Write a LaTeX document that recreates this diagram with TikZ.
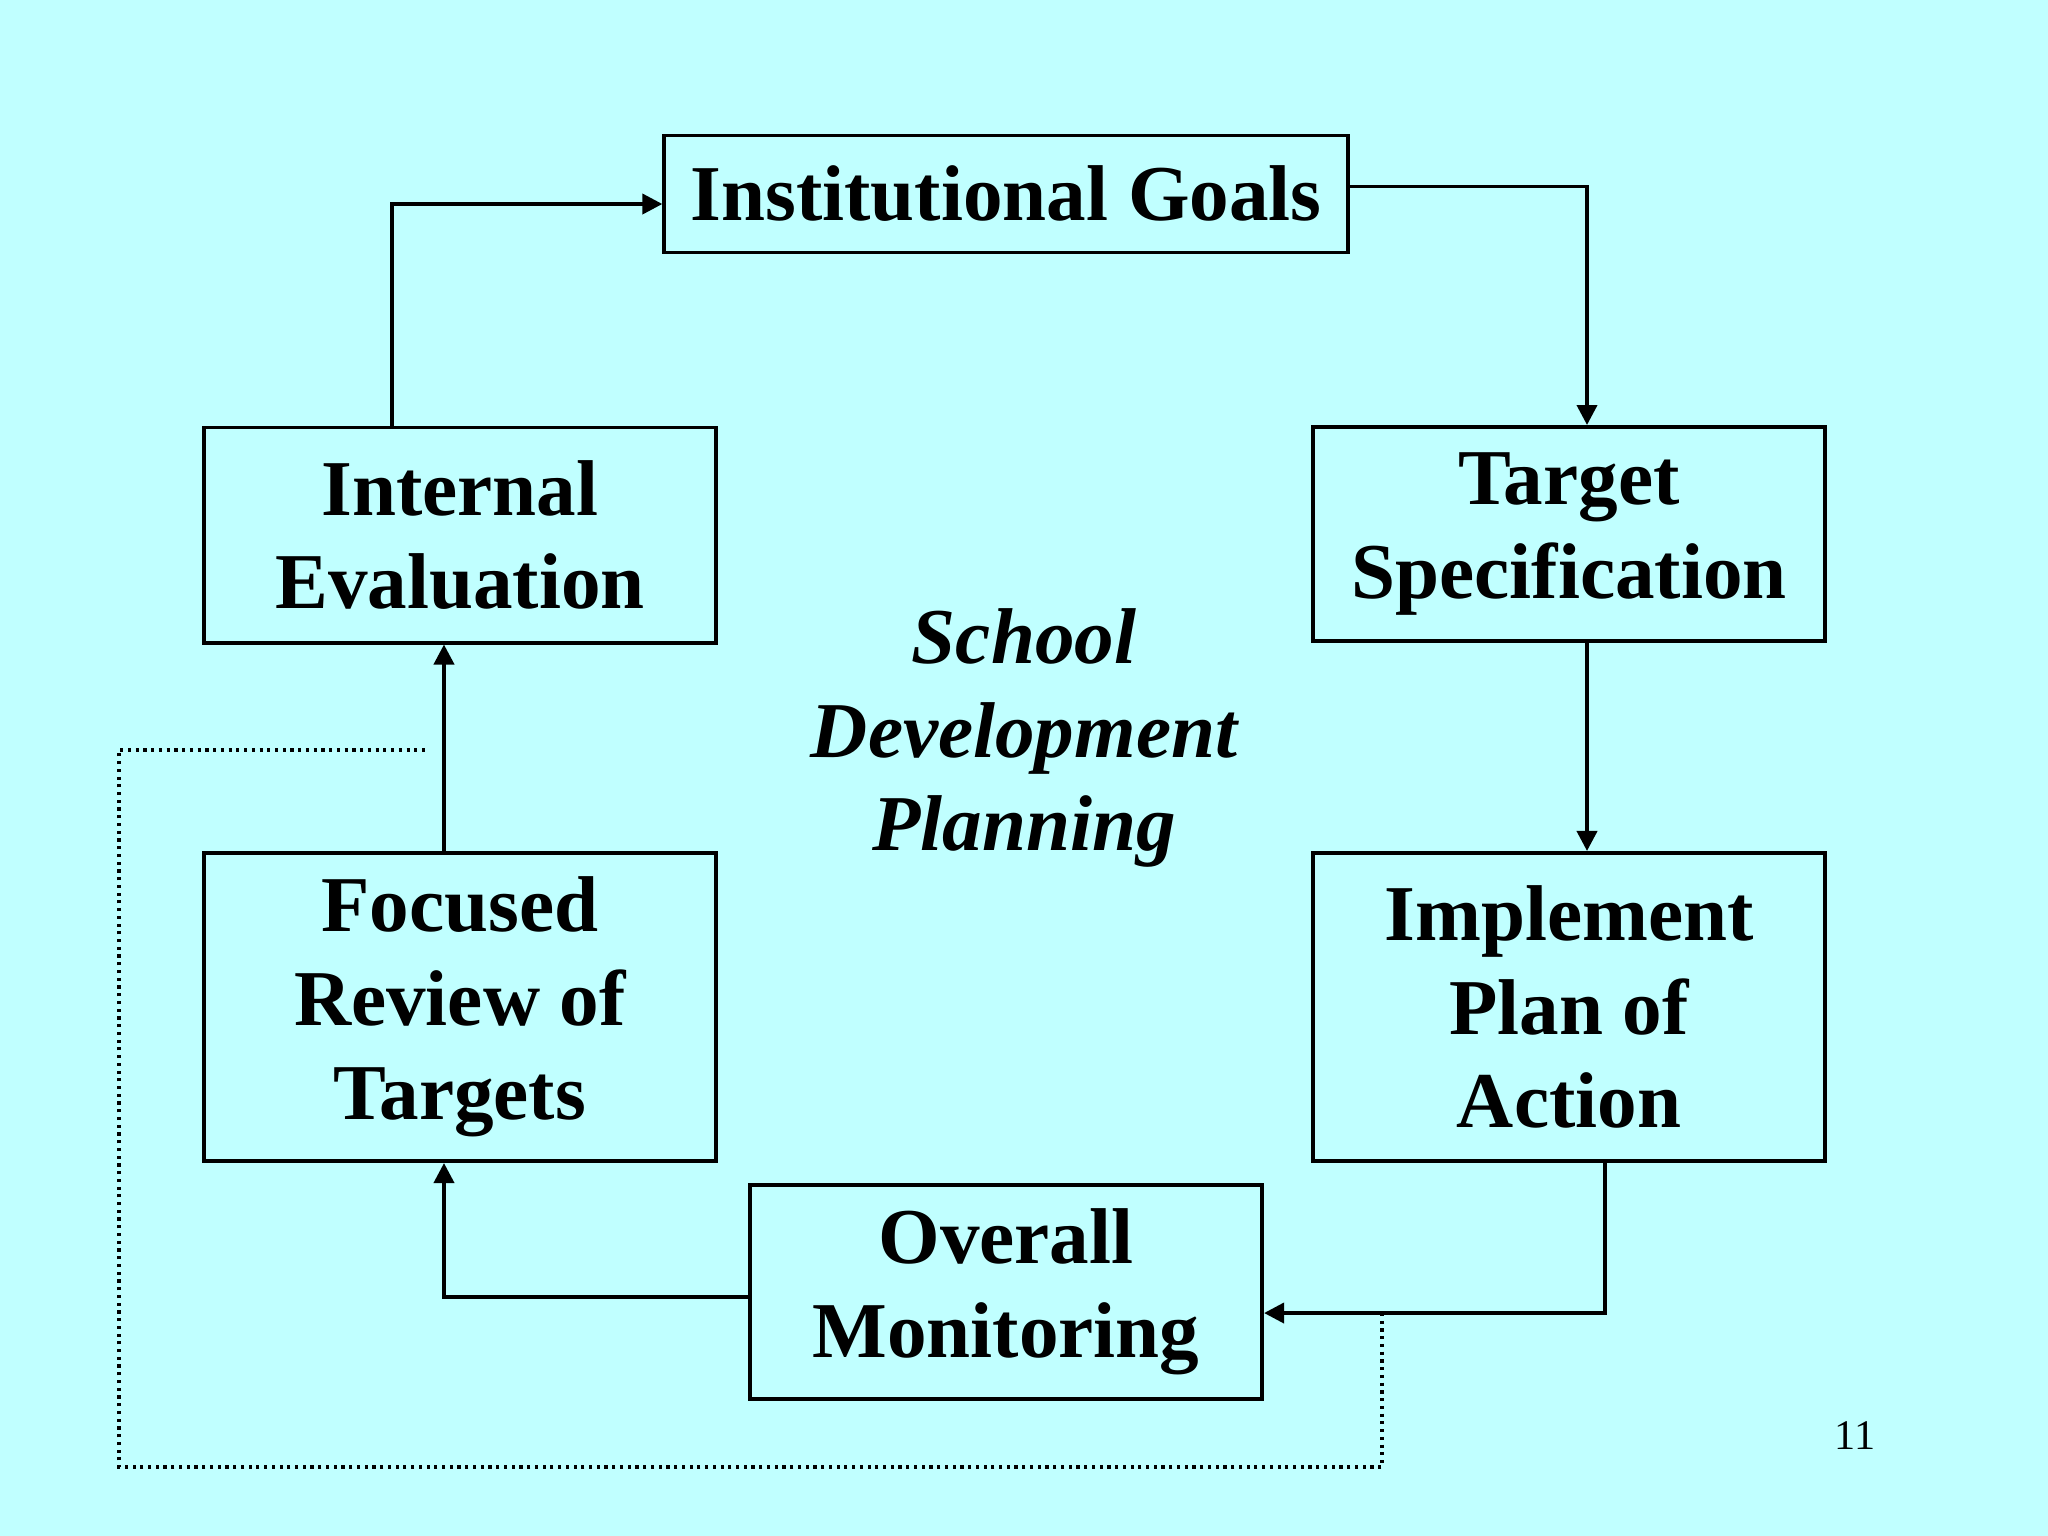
\documentclass[tikz,border=0pt]{standalone}
\usepackage{fontspec}
\setmainfont{Liberation Serif}
\usetikzlibrary{arrows.meta}
\definecolor{slidebg}{RGB}{192,255,255}
\begin{document}
\begin{tikzpicture}[x=0.01cm,y=-0.01cm,
		stage/.style={draw,line width=1.1pt,align=center,inner sep=0pt,minimum width=5.12cm,font=\fontsize{22.5}{26.7}\selectfont\bfseries},
		flow/.style={line width=1.1pt,-{Triangle[length=0.2cm,width=0.2cm]}}]
	\fill [slidebg] (0,0) rectangle (2048,1536);
	\useasboundingbox (0,0) rectangle (2048,1536);
	\node [stage,minimum width=6.83cm,minimum height=1.17cm] (goals) at (1006,194) {Institutional Goals};
	\node [stage,minimum height=2.15cm] (internal) at (460,535) {Internal\\Evaluation};
	\node [stage,minimum height=2.14cm] (target) at (1569,534) {Target\\Specification};
	\node [stage,minimum height=3.08cm] (review) at (460,1007) {Focused\\Review of\\Targets};
	\node [stage,minimum height=3.08cm] (implement) at (1569,1007) {Implement\\Plan of\\Action};
	\node [stage,minimum height=2.14cm] (monitor) at (1006,1292) {Overall\\Monitoring};
	\node [align=center,font=\fontsize{22.5}{26.7}\selectfont\bfseries\itshape] (sdp) at (1024,738) {School\\Development\\Planning};
	\node [font=\fontsize{12}{14}\selectfont] (page) at (1855,1436) {11};
	% the cycle
	\draw [flow] ([xshift=-0.68cm]internal.north) |- ([yshift=-0.1cm]goals.west);
	\draw [flow] ([yshift=0.075cm]goals.east) -| ([xshift=0.18cm]target.north);
	\draw [flow] ([xshift=0.18cm]target.south) -- ([xshift=0.18cm]implement.north);
	\draw [flow] ([xshift=0.36cm]implement.south) |- ([yshift=-0.21cm]monitor.east);
	\draw [flow] ([yshift=-0.05cm]monitor.west) -| ([xshift=-0.16cm]review.south);
	\draw [flow] ([xshift=-0.16cm]review.north) -- ([xshift=-0.16cm]internal.south);
	% dotted return
	\coordinate (loopstart) at (1382,1313);
	\coordinate (loopend) at (428,750);
	\draw [line width=1.1pt,dash pattern=on 0.9pt off 1.3pt] (loopstart) -- (1382,1467) -- (119,1467) -- (119,750) -- (loopend);
\end{tikzpicture}
\end{document}
